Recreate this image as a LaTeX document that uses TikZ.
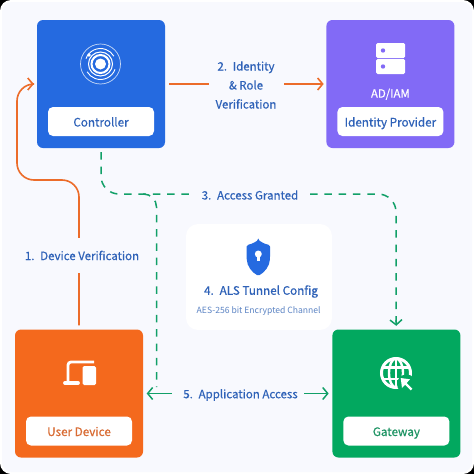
\documentclass[tikz,border=0pt]{standalone}
\usepackage{fontspec}
\setmainfont{Noto Sans CJK SC}
\newfontfamily\medfont{Noto Sans CJK SC}[FakeBold=0.6]
\usetikzlibrary{arrows.meta,positioning}
\definecolor{pagetint}{RGB}{248,249,254}
\definecolor{ctrlblue}{RGB}{37,106,224}
\definecolor{idpurple}{RGB}{130,106,246}
\definecolor{userorange}{RGB}{244,105,29}
\definecolor{gategreen}{RGB}{2,168,95}
\definecolor{labelblue}{RGB}{47,98,184}
\definecolor{sublabelblue}{RGB}{92,132,196}
\definecolor{flowgreen}{RGB}{18,160,104}
\definecolor{floworange}{RGB}{236,108,42}
\definecolor{usertext}{RGB}{217,108,52}
\definecolor{gatetext}{RGB}{30,148,100}

\begin{document}
\begin{tikzpicture}[
  x=1pt, y=-1pt,
  tile/.style={rounded corners=6pt, minimum size=128pt, inner sep=0pt},
  tag/.style={fill=white, rounded corners=5pt, minimum width=106pt, minimum height=29pt, inner sep=0pt, text height=10pt, text depth=0pt, font=\medfont\fontsize{11.7}{14}\selectfont},
  flowtext/.style={fill=pagetint, align=center, text=labelblue, inner sep=0pt, font=\medfont\fontsize{11.5}{19}\selectfont},
  opentip/.style={-{Straight Barb[length=5pt,width=12pt]}},
  orangeflow/.style={draw=floworange, line width=1.6pt, opentip},
  greenflow/.style={draw=flowgreen, line width=1.5pt, opentip},
  accessdash/.style={draw=flowgreen, line width=1.5pt, dash pattern=on 7.5pt off 6.8pt}
]
\useasboundingbox (0,0) rectangle (474,474);
\fill[black] (0,0) rectangle (474,474);
\fill[white, rounded corners=11pt] (0,0) rectangle (474,474);
\fill[pagetint, rounded corners=10pt] (2,2) rectangle (472,472);

\node[fill=white, rounded corners=12pt, minimum width=146pt, minimum height=106pt, inner sep=0pt] (tunnelcard) at (259,277) {};

\node[tile, fill=ctrlblue] (controller) at (101,84) {};
\node[tile, fill=idpurple, right=161pt of controller] (idp) {};
\node[tile, fill=userorange] (user) at (79,393.5) {};
\node[tile, fill=gategreen, right=189pt of user] (gateway) {};

\node[tag, text=labelblue, above=12pt of controller.south] (controllertag) {Controller};
\node[tag, text=labelblue, above=12pt of idp.south] (idptag) {Identity Provider};
\node[tag, text=usertext, above=12pt of user.south] (usertag) {User Device};
\node[tag, text=gatetext, above=12pt of gateway.south] (gatewaytag) {Gateway};
\node[text=white, font=\medfont\fontsize{11.5}{14}\selectfont, above=3.5pt of idptag] (adiam) {AD/IAM};

% controller icon
\fill[white] (100.5,64) circle (5.5pt);
\draw[white, line width=2pt] (100.5,64) circle (9pt);
\draw[white, line width=1pt] (100.5,64) circle (12pt);
\draw[white, line width=.9pt] (100.5,64) ++(20:15.5) arc (20:150:15.5);
\draw[white, line width=.9pt] (100.5,64) ++(200:15.5) arc (200:330:15.5);
\draw[white!75!ctrlblue, line width=.7pt] (100.5,64) circle (20pt);
\fill[white] (89,55) circle (1.8pt);

% server icon
\fill[white, rounded corners=1.5pt] (376,43) rectangle (405,58);
\fill[white, rounded corners=1.5pt] (376,59) rectangle (405,74);
\fill[idpurple] (383,50.5) circle (2.2pt) (383,66.5) circle (2.2pt);

% device icon
\draw[white, line width=2.8pt, rounded corners=3pt] (68,382) -- (68,362) -- (94,362);
\draw[white, line width=3.8pt, line cap=round] (65,383) -- (78,383);
\fill[white, rounded corners=1.5pt] (82.7,366) rectangle (96,385);

% globe icon
\draw[white, line width=3pt] (396,373) circle (14.5pt);
\draw[white, line width=2.4pt] (396,373) ellipse (7pt and 14.5pt);
\draw[white, line width=2.4pt] (396,358) -- (396,388) (383,367.5) -- (409,367.5) (383,379) -- (409,379);
\fill[gategreen] (406.5,384) circle (9.5pt);
\fill[white] (400.7,378) -- (410,379.3) -- (402,388) -- cycle;
\draw[white, line width=2.4pt] (403,381) -- (411.5,389.5);

% shield icon
\fill[ctrlblue, rounded corners=1.5pt] (258.3,240) .. controls (253,243.5) and (250,244.5) .. (246.7,245) -- (246.7,258) .. controls (247,266) and (252,272.5) .. (258.3,275.7) .. controls (264.6,272.5) and (269.6,266) .. (270,258) -- (270,245) .. controls (266.6,244.5) and (263.6,243.5) .. (258.3,240) -- cycle;
\fill[white] (258.3,254) circle (3.5pt);
\fill[white] (256.6,255) rectangle (260,260.5);

\node[font=\medfont\fontsize{11.7}{14}\selectfont, text=labelblue] (tunneltitle) at (261,291.5) {4.\enspace ALS Tunnel Config};
\node[font=\fontsize{8.6}{11}\selectfont, text=sublabelblue] (tunnelsub) at (258.7,311) {AES-256 bit Encrypted Channel};

\coordinate (riser) at (79,180);
\coordinate (bypass) at (17,180);
\coordinate (turn) at (396,194);
\coordinate (fork) at (143,194);
\coordinate (forkend) at (156.5,387);

\draw[orangeflow, rounded corners=17pt, shorten <=4pt, shorten >=3pt] (user.north) -- (riser) -- (bypass) -- (bypass |- controller.west) -- (controller.west);
\draw[orangeflow, shorten <=4pt, shorten >=2.5pt] (controller.east) -- (idp.west);
\draw[accessdash, rounded corners=18pt, shorten <=4pt] (controller.south) |- (turn) -- (396,322);
\draw[greenflow, shorten >=3.5pt] (396,320) -- (gateway.north);
\draw[accessdash, rounded corners=13pt] (fork) -| (forkend);
\draw[greenflow, {Straight Barb[length=5pt,width=12pt]}-{Straight Barb[length=5pt,width=12pt]}, shorten <=3.5pt, shorten >=3.5pt] (user.east) -- (gateway.west);

\node[flowtext, minimum height=35pt, minimum width=116pt] (deviceverify) at (82,255.5) {1.\enspace Device Verification};
\node[flowtext, minimum width=75pt] (roleverify) at (246,85) {2.\enspace Identity\\\& Role\\Verification};
\node[flowtext, minimum width=112pt, minimum height=14pt] (accessgranted) at (250,195) {3.\enspace Access Granted};
\node[flowtext, minimum width=132pt, minimum height=14pt] (appaccess) at (238,395) {\hspace*{5pt}5.\enspace Application Access};
\end{tikzpicture}
\end{document}
